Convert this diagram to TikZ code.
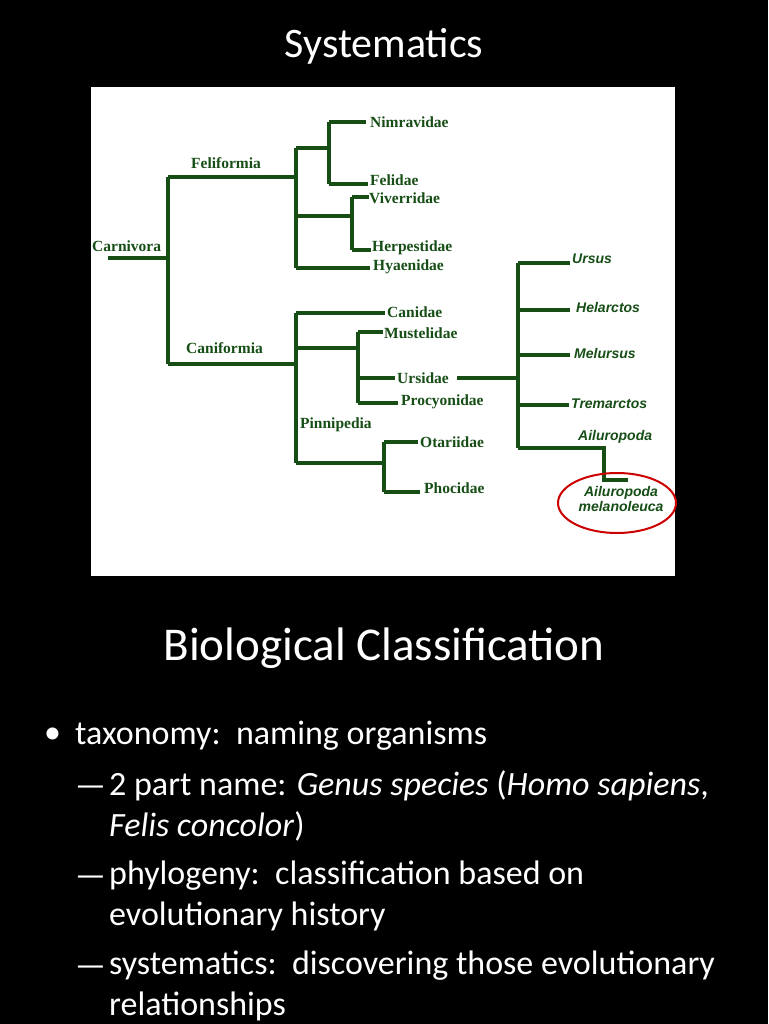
\documentclass[tikz,border=0pt]{standalone}
\usepackage{fontspec}
\setmainfont{Carlito}
\newfontfamily\treefont{Liberation Serif}
\newfontfamily\gsans{Liberation Sans}
\begin{document}
\begin{tikzpicture}[x=1pt,y=-1pt,
  br/.style={draw=tg,line width=3.2pt},
  lab/.style={anchor=west,inner sep=0pt,text=tg,font=\treefont\bfseries\fontsize{15.5}{16}\selectfont},
  gen/.style={anchor=west,inner sep=0pt,text=tg,font=\gsans\bfseries\itshape\fontsize{14}{15}\selectfont},
  txt/.style={anchor=west,inner sep=0pt,text=white,font=\fontsize{34}{38}\selectfont}]
\definecolor{tg}{RGB}{22,78,22}
\fill[black] (0,0) rectangle (768,1024);
\useasboundingbox (0,0) rectangle (768,1024);
\fill[white] (91,87) rectangle (675,576);
\node[text=white,font=\fontsize{42}{46}\selectfont] (title) at (384,46) {Systematics};
% tree
\coordinate (root) at (108,258);
\coordinate (c1) at (168,258);
\draw[br] (root) -- (c1);
\draw[br] (168,177) -- (168,364);
\draw[br] (168,177) -- (296,177);
\draw[br] (168,364) -- (296,364);
\node[lab] (carn) at (92,246) {Carnivora};
\node[lab] (feli) at (191,163) {Feliformia};
\node[lab] (cani) at (186,348) {Caniformia};
% feliformia
\draw[br] (296,148) -- (296,268);
\draw[br] (296,148) -- (329,148);
\draw[br] (329,122) -- (329,184);
\draw[br] (329,122) -- (366,122);
\draw[br] (329,184) -- (368,184);
\node[lab] (nim) at (370,122) {Nimravidae};
\node[lab] (fel) at (370,180) {Felidae};
\draw[br] (296,216) -- (352,216);
\draw[br] (352,197) -- (352,250);
\draw[br] (352,197) -- (369,197);
\draw[br] (352,250) -- (371,250);
\node[lab] (viv) at (369,198) {Viverridae};
\node[lab] (her) at (372,248) {Herpestidae};
\draw[br] (296,268) -- (370,268);
\node[lab] (hya) at (373,267) {Hyaenidae};
% caniformia
\draw[br] (296,313) -- (296,463);
\draw[br] (296,313) -- (385,313);
\node[lab] (can) at (387,312) {Canidae};
\draw[br] (296,348) -- (358,348);
\draw[br] (358,332) -- (358,403);
\draw[br] (358,332) -- (383,332);
\node[lab] (mus) at (384,333) {Mustelidae};
\draw[br] (358,378) -- (395,378);
\node[lab] (urs) at (397,378) {Ursidae};
\draw[br] (358,403) -- (398,403);
\node[lab] (pro) at (401,402) {Procyonidae};
\node[lab] (pin) at (300,425) {Pinnipedia};
\draw[br] (296,463) -- (384,463);
\draw[br] (384,442) -- (384,492);
\draw[br] (384,442) -- (418,442);
\node[lab] (ota) at (420,442) {Otariidae};
\draw[br] (384,492) -- (420,492);
\node[lab] (pho) at (424,488) {Phocidae};
% ursidae
\draw[br] (457,378) -- (518,378);
\draw[br] (518,263) -- (518,448);
\draw[br] (518,263) -- (570,263);
\node[gen] (ursus) at (572,259) {Ursus};
\draw[br] (518,310) -- (570,310);
\node[gen] (hel) at (576,307) {Helarctos};
\draw[br] (518,355) -- (570,355);
\node[gen] (mel) at (574,353) {Melursus};
\draw[br] (518,405) -- (569,405);
\node[gen] (tre) at (571,404) {Tremarctos};
\draw[br] (518,448) -- (604,448) -- (604,480) -- (628,480);
\node[gen] (ail) at (578,437) {Ailuropoda};
\node[gen,anchor=center,align=center,font=\gsans\bfseries\itshape\fontsize{14}{15}\selectfont] (aim) at (621,499) {Ailuropoda\\melanoleuca};
\draw[red!80!black,line width=2pt] (617,503) ellipse [x radius=59, y radius=30];
% text
\node[text=white,font=\fontsize{47}{52}\selectfont] (bc) at (384,648) {Biological Classification};
\node[txt] (b0) at (44,736) {•};
\node[txt] (b1) at (75,736) {taxonomy:\ \ naming organisms};
\node[txt] (d1) at (75,791) {—};
\node[txt] (l1) at (109,786) {2 part name: \textit{Genus species} (\textit{Homo sapiens},};
\node[txt] (l1b) at (109,826) {\textit{Felis concolor})};
\node[txt] (d2) at (75,881) {—};
\node[txt] (l2) at (109,876) {phylogeny:\ \ classification based on};
\node[txt] (l2b) at (109,916) {evolutionary history};
\node[txt] (d3) at (75,971) {—};
\node[txt] (l3) at (109,966) {systematics:\ \ discovering those evolutionary};
\node[txt] (l3b) at (109,1006) {relationships};
\end{tikzpicture}
\end{document}
